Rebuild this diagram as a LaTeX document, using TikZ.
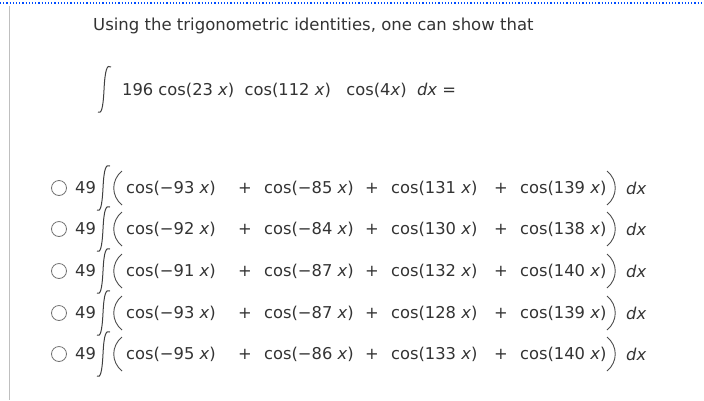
\documentclass[tikz,border=0pt]{standalone}
\usepackage{fontspec}
\setmainfont{DejaVu Sans}
\begin{document}
\begin{tikzpicture}[x=1pt,y=-1pt,
  txt/.style={anchor=west,inner sep=0pt,text=black!80,font=\fontsize{16.3}{19}\selectfont},
  intg/.style={line width=1pt,black!75},
  par/.style={line width=0.9pt,black!70},
  radio/.style={draw=black!55,line width=0.8pt,fill=white}]
\useasboundingbox (0,0) rectangle (704,400);
\draw[blue!70!cyan,line width=1.2pt,dotted] (0,3) -- (704,3);
\draw[black!25,line width=1pt] (9,6) -- (9,400);
\node[txt,font=\fontsize{16.5}{19}\selectfont] (title) at (93,26) {Using the trigonometric identities, one can show that};
\draw[intg] (98,112) .. controls (101,114) and (103,110) .. (104,90) .. controls (105,70) and (107,64) .. (111,67);
\node[txt] (lhs) at (122,90) {196 cos(23 \textit{x})\ \ cos(112 \textit{x})\ \ \ cos(4\textit{x})\ \ \textit{dx} =};
\foreach \y/\a/\b/\c/\d [count=\i] in {188/93/85/131/139, 229/92/84/130/138, 271/91/87/132/140, 313/93/87/128/139, 354/95/86/133/140}{
  \node[radio,circle,minimum size=15pt,inner sep=0pt] (r\i) at (59,\y) {};
  \node[txt] (n\i) at (75,\y) {49};
  \draw[intg] (97,\y+22) .. controls (100,\y+24) and (102,\y+20) .. (103,\y) .. controls (104,\y-20) and (106,\y-24) .. (110,\y-22);
  \draw[par] (122,\y-17) .. controls (111,\y-8) and (111,\y+8) .. (122,\y+17);
  \node[txt] (t\i a) at (126,\y) {cos(−\a\ \textit{x})};
  \node[txt] (p\i a) at (238,\y) {+};
  \node[txt] (t\i b) at (264,\y) {cos(−\b\ \textit{x})};
  \node[txt] (p\i b) at (365,\y) {+};
  \node[txt] (t\i c) at (391,\y) {cos(\c\ \textit{x})};
  \node[txt] (p\i c) at (494,\y) {+};
  \node[txt] (t\i d) at (520,\y) {cos(\d\ \textit{x})};
  \draw[par] (607,\y-17) .. controls (618,\y-8) and (618,\y+8) .. (607,\y+17);
  \node[txt] (dx\i) at (626,\y) {\textit{dx}};
}
\end{tikzpicture}
\end{document}
